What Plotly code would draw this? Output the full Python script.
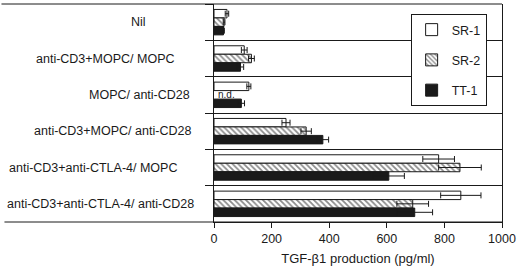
import plotly.graph_objects as go

# ---- data ----
categories = [
    "Nil",
    "anti-CD3+MOPC/ MOPC",
    "MOPC/ anti-CD28",
    "anti-CD3+MOPC/ anti-CD28",
    "anti-CD3+anti-CTLA-4/ MOPC",
    "anti-CD3+anti-CTLA-4/ anti-CD28",
]
series_names = ["SR-1", "SR-2", "TT-1"]
sr1_values = [45, 105, 121, 250, 780, 857]
sr1_errors = [6, 10, 7, 14, 55, 70]
sr2_values = [35, 130, None, 320, 854, 690]
sr2_errors = [3, 10, None, 18, 74, 55]
tt1_values = [33, 92, 95, 378, 607, 697]
tt1_errors = [3, 11, 11, 20, 54, 62]
x_ticks = [0, 200, 400, 600, 800, 1000]
x_title = "TGF-β1 production (pg/ml)"
nd_label = "n.d."

# ---- style / layout ----
W, H = 520, 271
L, R, T, B = 214, 16, 4, 49
PW = W - L - R
PH = H - T - B
FONT = "Arial, 'Liberation Sans', Helvetica, sans-serif"
INK = "#1a1a1a"
label_center_px = [138, 105, 139, 112, 92, 100]  # horizontal centres of row labels


def px_to_paper_x(px):
    return (px - L) / PW


def px_to_paper_y(py):
    return 1 - (py - T) / PH


fig = go.Figure()

styles = [
    dict(color="white", pattern=None),
    dict(color="white", pattern=dict(shape="\\", fgcolor=INK, bgcolor="white", size=4, solidity=0.45)),
    dict(color=INK, pattern=None),
]
vals = [sr1_values, sr2_values, tt1_values]
errs = [sr1_errors, sr2_errors, tt1_errors]

for name, v, e, st in zip(series_names, vals, errs, styles):
    marker = dict(color=st["color"], line=dict(color=INK, width=1))
    if st["pattern"]:
        marker["pattern"] = st["pattern"]
    fig.add_trace(go.Bar(
        name=name, y=categories, x=v, orientation="h",
        marker=marker,
        error_x=dict(type="data", array=e, symmetric=True, color=INK, thickness=1, width=3),
        legendgroup=name,
    ))

# row labels
for cat, cx in zip(categories, label_center_px):
    fig.add_annotation(x=px_to_paper_x(cx), xref="paper", y=cat, yref="y",
                       text=cat, showarrow=False, xanchor="center", yanchor="middle",
                       font=dict(family=FONT, size=12.5, color=INK))

# n.d. marker
fig.add_annotation(x=8, xref="x", y=categories[2], yref="y", text=nd_label,
                   showarrow=False, xanchor="left", yanchor="middle",
                   font=dict(family=FONT, size=10, color=INK))

# long top and bottom frame lines extending into label area
fig.add_shape(type="line", xref="paper", yref="paper", x0=px_to_paper_x(0), x1=1, y0=1, y1=1,
              line=dict(color=INK, width=1))
fig.add_shape(type="line", xref="paper", yref="paper", x0=px_to_paper_x(3), x1=1, y0=0, y1=0,
              line=dict(color=INK, width=1))

fig.update_layout(
    width=W, height=H,
    margin=dict(l=L, r=R, t=T, b=B),
    paper_bgcolor="white", plot_bgcolor="white",
    barmode="group", bargap=0.3, bargroupgap=0,
    font=dict(family=FONT, size=12, color=INK),
    showlegend=True,
    legend=dict(
        x=px_to_paper_x(412), y=px_to_paper_y(14), xanchor="left", yanchor="top",
        bordercolor=INK, borderwidth=1, bgcolor="white",
        traceorder="grouped", tracegroupgap=11,
        font=dict(family=FONT, size=12.5, color=INK),
    ),
)
fig.update_xaxes(
    range=[0, 1000], tickvals=x_ticks, ticks="outside", ticklen=5, tickcolor=INK,
    showline=True, linecolor=INK, linewidth=1, mirror=False, showgrid=False, zeroline=False,
    title=dict(text=x_title, font=dict(family=FONT, size=13, color=INK), standoff=8),
    tickfont=dict(family=FONT, size=12.5, color=INK),
)
fig.update_yaxes(
    autorange="reversed", tickson="boundaries", ticks="outside", ticklen=8, tickcolor=INK,
    showticklabels=False, showgrid=True, gridcolor=INK, gridwidth=1,
    showline=True, linecolor=INK, linewidth=1, mirror=True, zeroline=False,
)

fig.write_html("out.html", config={"displayModeBar": False},
               post_script="document.body.style.margin='0';")
